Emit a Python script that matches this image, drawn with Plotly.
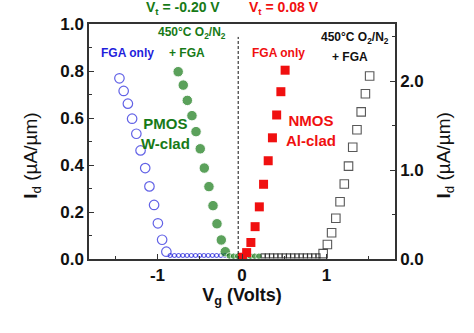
import plotly.graph_objects as go

# PMOS, FGA only (left axis, µA/µm)
pmos_fga_v = [-1.45, -1.40, -1.35, -1.30, -1.25, -1.20, -1.145, -1.095, -1.04, -0.995, -0.945, -0.895,
              -0.85, -0.80, -0.75, -0.70, -0.65, -0.60, -0.55, -0.50, -0.45, -0.40, -0.35, -0.30, -0.25, -0.20]
pmos_fga_i = [0.769, 0.715, 0.661, 0.597, 0.533, 0.462, 0.387, 0.309, 0.230, 0.152, 0.082, 0.031,
              0.015, 0.015, 0.015, 0.015, 0.015, 0.015, 0.015, 0.015, 0.015, 0.015, 0.015, 0.015, 0.015, 0.015]

# PMOS, 450C O2/N2 + FGA (left axis)
pmos_ox_v = [-0.755, -0.695, -0.647, -0.592, -0.544, -0.494, -0.446, -0.391, -0.343, -0.296, -0.245, -0.198,
             -0.15, -0.10, -0.05, 0.0, 0.05, 0.10, 0.15, 0.20]
pmos_ox_i = [0.797, 0.740, 0.675, 0.610, 0.542, 0.469, 0.387, 0.308, 0.227, 0.150, 0.081, 0.031,
             0.013, 0.012, 0.012, 0.012, 0.012, 0.012, 0.012, 0.012]

# NMOS, FGA only (right axis)
nmos_fga_v = [0.51, 0.46, 0.41, 0.36, 0.31, 0.255, 0.205, 0.155, 0.105, 0.055, 0.005]
nmos_fga_i = [2.125, 1.883, 1.621, 1.364, 1.106, 0.841, 0.587, 0.364, 0.186, 0.072, 0.02]

# NMOS, 450C O2/N2 + FGA (right axis)
nmos_ox_v = [1.51, 1.46, 1.41, 1.36, 1.31, 1.26, 1.21, 1.16, 1.11, 1.06, 1.01, 0.96,
             0.90, 0.85, 0.80, 0.75, 0.70, 0.65, 0.60, 0.55, 0.50, 0.45, 0.40, 0.35, 0.30, 0.25]
nmos_ox_i = [2.060, 1.860, 1.656, 1.455, 1.258, 1.045, 0.844, 0.644, 0.458, 0.295, 0.163, 0.060,
             0.035, 0.035, 0.035, 0.035, 0.035, 0.035, 0.035, 0.035, 0.035, 0.035, 0.035, 0.035, 0.035, 0.035]

x_ticks = [-1, 0, 1]
x_ticktext = ["-1", "0", "1"]
y_left_ticks = [0.0, 0.2, 0.4, 0.6, 0.8, 1.0]
y_right_ticks = [0.0, 1.0, 2.0]

BLUE = "#1f1fdc"
GREEN = "#177a17"
RED = "#f01010"
BLACK = "#111111"
AX = "#333333"
FONT = "Liberation Sans, Arial, sans-serif"


def sizes(vals, thr, big, small):
    return [big if v > thr else small for v in vals]


fig = go.Figure()
fig.add_trace(go.Scatter(x=pmos_fga_v, y=pmos_fga_i, mode="markers", name="PMOS FGA only",
                         marker=dict(symbol="circle-open", color=BLUE, size=sizes(pmos_fga_i, 0.02, 9.5, 4),
                                     line=dict(width=1.2, color=BLUE))))
fig.add_trace(go.Scatter(x=nmos_fga_v, y=nmos_fga_i, mode="markers", yaxis="y2", name="NMOS FGA only",
                         marker=dict(symbol="square", color=RED, size=9)))
fig.add_trace(go.Scatter(x=nmos_ox_v, y=nmos_ox_i, mode="markers", yaxis="y2", name="NMOS O2/N2 + FGA",
                         marker=dict(symbol="square-open", color=BLACK, size=sizes(nmos_ox_i, 0.05, 8.5, 4),
                                     line=dict(width=1.1, color=BLACK))))
fig.add_trace(go.Scatter(x=pmos_ox_v, y=pmos_ox_i, mode="markers", name="PMOS O2/N2 + FGA",
                         marker=dict(symbol="circle", color=GREEN, size=sizes(pmos_ox_i, 0.02, 10.5, 6.5))))

fig.add_shape(type="line", x0=-0.045, x1=-0.045, y0=0, y1=0.945, xref="x", yref="y",
              line=dict(color=BLACK, width=1, dash="3px,2px"))


def ann(text, x, y, color, size=12, yref="y", xref="x", angle=0):
    fig.add_annotation(text=text, x=x, y=y, xref=xref, yref=yref, showarrow=False, textangle=angle,
                       font=dict(family=FONT, size=size, color=color), xanchor="center", yanchor="middle")


ann("<b>V<sub>t</sub> = -0.20 V</b>", -0.70, 1.068, GREEN, 14, "paper")
ann("<b>V<sub>t</sub> = 0.08 V</b>", 0.50, 1.068, RED, 14, "paper")
ann("<b>450°C O<sub>2</sub>/N<sub>2</sub></b>", -0.586, 0.960, GREEN)
ann("<b>+ FGA</b>", -0.645, 0.876, GREEN)
ann("<b>FGA only</b>", -1.355, 0.876, BLUE)
ann("<b>FGA only</b>", 0.435, 0.876, RED)
ann("<b>450°C O<sub>2</sub>/N<sub>2</sub></b>", 1.337, 0.942, BLACK)
ann("<b>+ FGA</b>", 1.278, 0.859, BLACK)
ann("<b>PMOS<br>W-clad</b>", -0.90, 0.536, GREEN, 15)
ann("<b>NMOS<br>Al-clad</b>", 0.817, 0.545, RED, 15)
# axis titles (placed to match reference vertical offset)
ann("<b>I</b><sub>d</sub> (µA/µm)", -0.186, 0.44, BLACK, 19, "paper", "paper", -90)
ann("<b>I</b><sub>d</sub> (µA/µm)", 1.163, 0.44, BLACK, 19, "paper", "paper", -90)

tickfont = dict(family=FONT, size=17, color=BLACK, weight="bold")

fig.update_layout(
    width=474, height=333,
    margin=dict(l=89, r=79, t=24, b=74),
    paper_bgcolor="white", plot_bgcolor="white",
    showlegend=False,
    font=dict(family=FONT, color=BLACK),
    xaxis=dict(range=[-1.81, 1.81], tickvals=x_ticks, ticktext=x_ticktext, ticks="inside", ticklen=5,
               tickwidth=1.2, tickcolor=AX, showline=True, linecolor=AX, linewidth=1.5, mirror=True,
               showgrid=False, zeroline=False, tickfont=tickfont,
               minor=dict(dtick=0.5, ticks="inside", ticklen=3, tickcolor=AX, tickwidth=1.2),
               title=dict(text="<b>V<sub>g</sub> (Volts)</b>", font=dict(family=FONT, size=18, color=BLACK),
                          standoff=2)),
    yaxis=dict(range=[0, 1.0], tickvals=y_left_ticks, tickformat=".1f", ticks="inside", ticklen=5,
               tickwidth=1.2, tickcolor=AX, showline=True, linecolor=AX, linewidth=1.5,
               showgrid=False, zeroline=False, tickfont=tickfont,
               minor=dict(dtick=0.1, ticks="inside", ticklen=3, tickcolor=AX, tickwidth=1.2)),
    yaxis2=dict(range=[0, 2.645], overlaying="y", side="right", tickvals=y_right_ticks, tickformat=".1f",
                ticks="inside", ticklen=5, tickwidth=1.2, tickcolor=AX, showline=True, linecolor=AX,
                linewidth=1.5, showgrid=False, zeroline=False, tickfont=tickfont,
                minor=dict(dtick=0.5, ticks="inside", ticklen=3, tickcolor=AX, tickwidth=1.2)),
)

fig.write_html("out.html")
